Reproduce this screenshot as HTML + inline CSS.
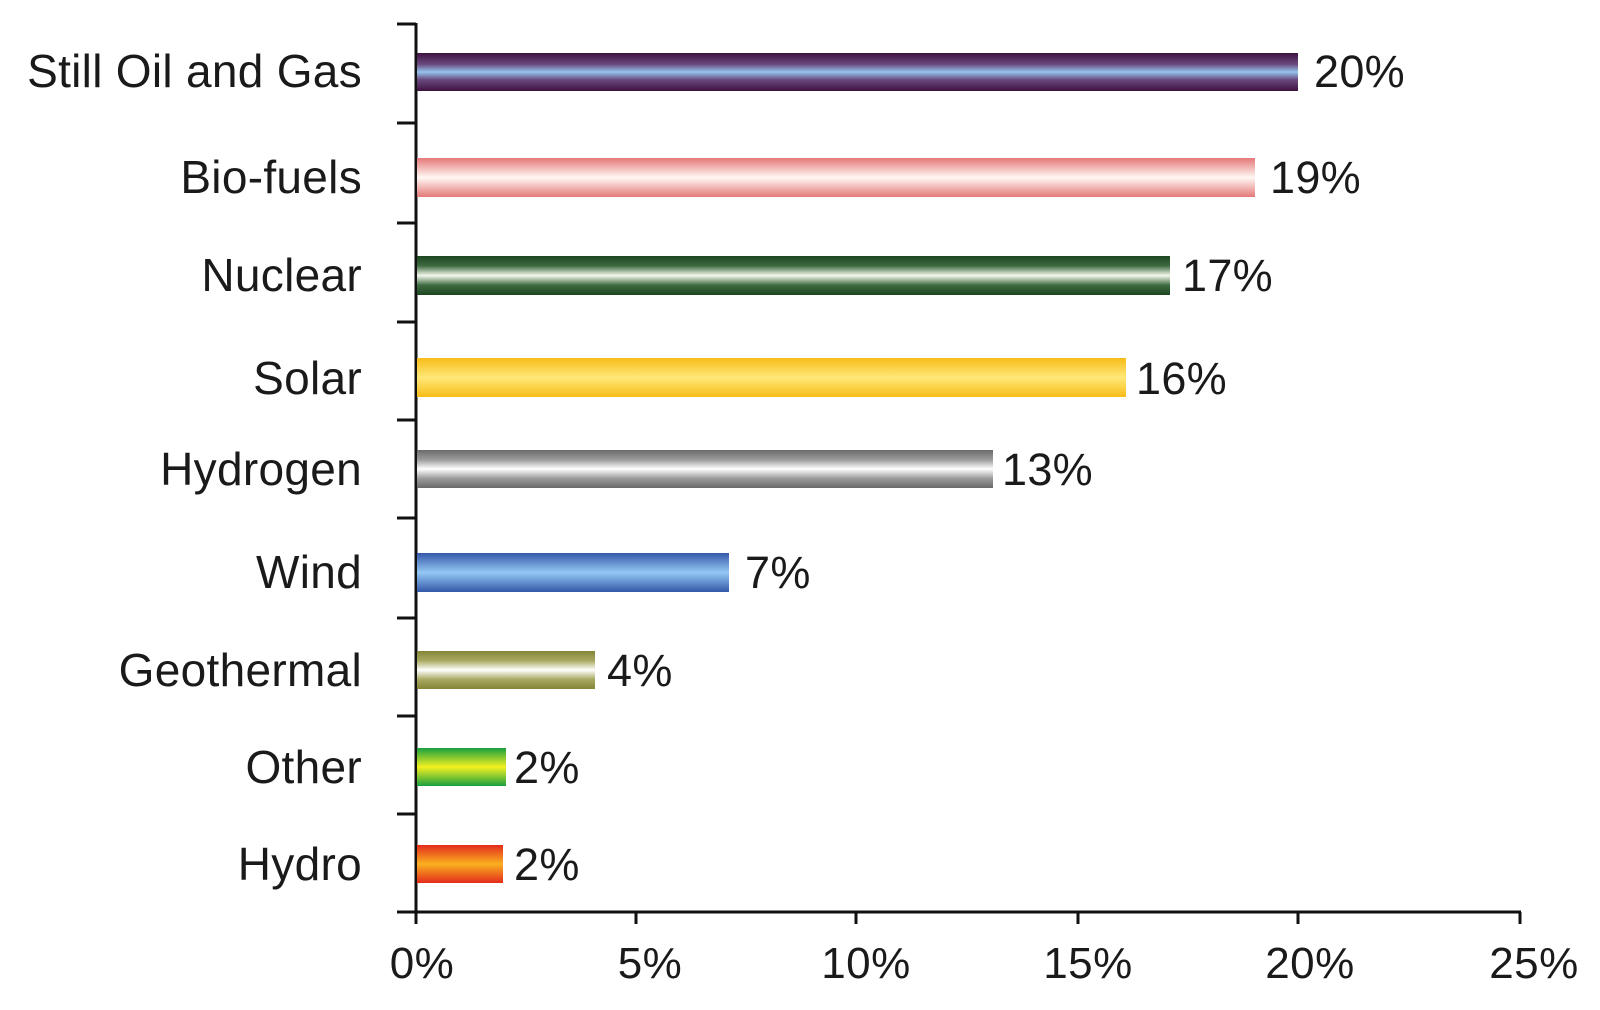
<!DOCTYPE html>
<html><head><meta charset="utf-8"><style>
html,body{margin:0;padding:0;background:#fff;}
svg{display:block;}
text{font-family:"Liberation Sans",Arial,sans-serif;fill:#1a1a1a;}
</style></head><body>
<svg width="1600" height="1010" viewBox="0 0 1600 1010" xmlns="http://www.w3.org/2000/svg">
<defs>
<linearGradient id="g0" x1="0" y1="0" x2="0" y2="1"><stop offset="0" stop-color="#3e1240"/><stop offset="0.3" stop-color="#6a4a80"/><stop offset="0.5" stop-color="#94c4ec"/><stop offset="0.7" stop-color="#6a4a80"/><stop offset="1" stop-color="#3e1240"/></linearGradient>
<linearGradient id="g1" x1="0" y1="0" x2="0" y2="1"><stop offset="0" stop-color="#e47878"/><stop offset="0.5" stop-color="#fff8f4"/><stop offset="1" stop-color="#e47878"/></linearGradient>
<linearGradient id="g2" x1="0" y1="0" x2="0" y2="1"><stop offset="0" stop-color="#1c4620"/><stop offset="0.25" stop-color="#3d6a40"/><stop offset="0.5" stop-color="#f4f8ec"/><stop offset="0.75" stop-color="#3d6a40"/><stop offset="1" stop-color="#1c4620"/></linearGradient>
<linearGradient id="g3" x1="0" y1="0" x2="0" y2="1"><stop offset="0" stop-color="#f8bc18"/><stop offset="0.5" stop-color="#ffe878"/><stop offset="1" stop-color="#f8bc18"/></linearGradient>
<linearGradient id="g4" x1="0" y1="0" x2="0" y2="1"><stop offset="0" stop-color="#6a6a6a"/><stop offset="0.25" stop-color="#9a9a9a"/><stop offset="0.5" stop-color="#ffffff"/><stop offset="0.75" stop-color="#9a9a9a"/><stop offset="1" stop-color="#6a6a6a"/></linearGradient>
<linearGradient id="g5" x1="0" y1="0" x2="0" y2="1"><stop offset="0" stop-color="#3458a8"/><stop offset="0.5" stop-color="#94c8f4"/><stop offset="1" stop-color="#3458a8"/></linearGradient>
<linearGradient id="g6" x1="0" y1="0" x2="0" y2="1"><stop offset="0" stop-color="#858538"/><stop offset="0.25" stop-color="#a8a860"/><stop offset="0.5" stop-color="#ffffff"/><stop offset="0.75" stop-color="#a8a860"/><stop offset="1" stop-color="#858538"/></linearGradient>
<linearGradient id="g7" x1="0" y1="0" x2="0" y2="1"><stop offset="0" stop-color="#18a040"/><stop offset="0.5" stop-color="#f4f020"/><stop offset="1" stop-color="#18a040"/></linearGradient>
<linearGradient id="g8" x1="0" y1="0" x2="0" y2="1"><stop offset="0" stop-color="#e42c1c"/><stop offset="0.5" stop-color="#fab020"/><stop offset="1" stop-color="#e42c1c"/></linearGradient>
</defs>
<g stroke="#111" stroke-width="3" fill="none">
<line x1="416" y1="23" x2="416" y2="913"/>
<line x1="397" y1="912" x2="1521" y2="912"/>
<line x1="397" y1="24" x2="416" y2="24"/>
<line x1="397" y1="123" x2="416" y2="123"/>
<line x1="397" y1="223" x2="416" y2="223"/>
<line x1="397" y1="322" x2="416" y2="322"/>
<line x1="397" y1="420" x2="416" y2="420"/>
<line x1="397" y1="518" x2="416" y2="518"/>
<line x1="397" y1="618" x2="416" y2="618"/>
<line x1="397" y1="716" x2="416" y2="716"/>
<line x1="397" y1="814" x2="416" y2="814"/>
<line x1="416" y1="912" x2="416" y2="924"/>
<line x1="636" y1="912" x2="636" y2="924"/>
<line x1="856" y1="912" x2="856" y2="924"/>
<line x1="1078" y1="912" x2="1078" y2="924"/>
<line x1="1298" y1="912" x2="1298" y2="924"/>
<line x1="1520" y1="912" x2="1520" y2="924"/>
</g>
<rect x="417" y="53" width="881" height="38" fill="url(#g0)"/>
<rect x="417" y="158" width="838" height="39" fill="url(#g1)"/>
<rect x="417" y="256" width="753" height="39" fill="url(#g2)"/>
<rect x="417" y="358" width="709" height="39" fill="url(#g3)"/>
<rect x="417" y="450" width="576" height="38" fill="url(#g4)"/>
<rect x="417" y="553" width="312" height="39" fill="url(#g5)"/>
<rect x="417" y="651" width="178" height="38" fill="url(#g6)"/>
<rect x="417" y="748" width="89" height="38" fill="url(#g7)"/>
<rect x="417" y="845" width="86" height="38" fill="url(#g8)"/>
<g font-size="46" text-anchor="end" letter-spacing="0.3">
<text x="362" y="87">Still Oil and Gas</text>
<text x="362" y="193">Bio-fuels</text>
<text x="362" y="291">Nuclear</text>
<text x="362" y="394">Solar</text>
<text x="362" y="485">Hydrogen</text>
<text x="362" y="588">Wind</text>
<text x="362" y="686">Geothermal</text>
<text x="362" y="783">Other</text>
<text x="362" y="880">Hydro</text>
</g>
<g font-size="45" letter-spacing="0.3">
<text x="1314" y="87">20%</text>
<text x="1270" y="193">19%</text>
<text x="1182" y="291">17%</text>
<text x="1136" y="394">16%</text>
<text x="1002" y="485">13%</text>
<text x="745" y="588">7%</text>
<text x="607" y="686">4%</text>
<text x="514" y="783">2%</text>
<text x="514" y="880">2%</text>
</g>
<g font-size="44" text-anchor="middle" letter-spacing="0.5">
<text x="422" y="978">0%</text>
<text x="650" y="978">5%</text>
<text x="866" y="978">10%</text>
<text x="1088" y="978">15%</text>
<text x="1310" y="978">20%</text>
<text x="1534" y="978">25%</text>
</g>
</svg>
</body></html>
